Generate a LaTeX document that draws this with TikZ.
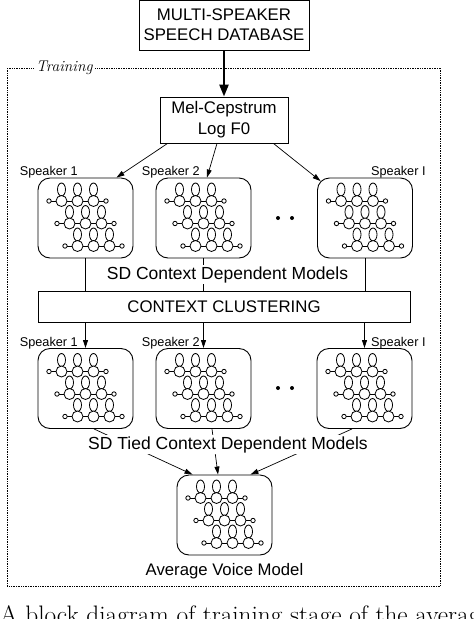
\documentclass[tikz,border=0pt]{standalone}
\usepackage{fontspec}
\newfontfamily\arialfont{Liberation Sans}
\usetikzlibrary{arrows.meta,positioning,calc}
\newcommand{\sz}[2]{\fontsize{#1}{#2}\selectfont}

\begin{document}
\begin{tikzpicture}[x=1pt,y=-1pt,
    box/.style={draw,line width=0.9pt,align=center,inner sep=0pt,font=\arialfont\sz{16.8}{20}},
    hmmbox/.style={draw,line width=0.9pt,rounded corners=12pt,minimum width=95pt,
                   minimum height=80pt,inner sep=0pt},
    spk/.style={font=\arialfont\sz{12.7}{15},inner sep=0pt},
    lbl/.style={font=\arialfont\sz{17.5}{20},inner sep=1pt,fill=white},
    con/.style={line width=0.7pt},
    model/.pic={
      \foreach \r in {0,1,2}{
        \pgfmathsetmacro\rowy{-17+22.5*\r}
        \pgfmathsetmacro\rowx{-24+8*\r}
        \draw[line width=0.8pt] (\rowx-12.5,\rowy) -- (\rowx+44.5,\rowy);
        \foreach \k in {0,1,2}{
          \draw[line width=0.8pt,fill=white] (\rowx+16*\k,\rowy-11.5) ellipse[x radius=4,y radius=6.5];
          \draw[line width=0.8pt,fill=white] (\rowx+16*\k,\rowy) circle[radius=5.5];
        }
        \draw[line width=0.8pt,fill=white] (\rowx-12.5,\rowy) circle[radius=2.2];
        \draw[line width=0.8pt,fill=white] (\rowx+44.5,\rowy) circle[radius=2.2];
      }
    },
    >={Triangle[length=8pt,width=5pt]}]
  \clip (0,0) rectangle (474,619);

  % training frame
  \draw[densely dotted,line width=0.7pt] (7,68) rectangle (440.5,586);
  \node[anchor=base west,fill=white,inner sep=2pt,font=\itshape\sz{15.5}{18}] (trn) at (34,71) {Training};

  \node[box,minimum width=170pt,minimum height=50pt] (db) at (224,25) {MULTI-SPEAKER\\SPEECH DATABASE};
  \node[box,minimum width=128pt,minimum height=46pt,font=\arialfont\sz{16.8}{21}] (mel) at (224,120) {Mel-Cepstrum\\Log F0};
  \draw[-{Triangle[length=12pt,width=9pt]},line width=2.4pt] (db) -- (mel);

  % speaker dependent models
  \node[hmmbox] (m1) at (85.5,218) {};
  \node[hmmbox] (m2) at (203.5,218) {};
  \node[hmmbox] (m3) at (365,218) {};
  \pic at (m1) {model};
  \pic at (m2) {model};
  \pic at (m3) {model};
  \fill (278,218) circle[radius=2] (292,218) circle[radius=2];
  \node[spk,anchor=base east] (s1) at (78,175.5) {Speaker 1};
  \node[spk,anchor=base east] (s2) at (200,175.5) {Speaker 2};
  \node[spk,anchor=base west] (s3) at (371,175.5) {Speaker I};
  \draw[con,->] ($(mel.south west)+(8,0)$) -- ($(m1.north)+(31,0)$);
  \draw[con,->] ($(mel.south)+(-7,0)$) -- ($(m2.north)+(3.5,0)$);
  \draw[con,->] ($(mel.south east)+(-15,0)$) -- ($(m3.north west)+(3.5,3.5)$);

  \node[box,minimum width=372pt,minimum height=31pt] (cc) at (224,306.5) {CONTEXT CLUSTERING};
  \draw[con] (m1.south) -- (m1.south |- cc.north);
  \draw[con] (m2.south) -- (m2.south |- cc.north);
  \draw[con] (m3.south) -- (m3.south |- cc.north);
  \node[lbl,anchor=base] (sdc) at (227.5,279) {SD Context Dependent Models};

  % tied models
  \node[hmmbox] (t1) at (85.5,388.5) {};
  \node[hmmbox] (t2) at (203.5,388.5) {};
  \node[hmmbox] (t3) at (364.5,388.5) {};
  \pic at (t1) {model};
  \pic at (t2) {model};
  \pic at (t3) {model};
  \fill (278,388) circle[radius=2] (292,388) circle[radius=2];
  \draw[con,->] (t1 |- cc.south) -- (t1.north);
  \draw[con,->] (t2 |- cc.south) -- (t2.north);
  \draw[con,->] (t3 |- cc.south) -- (t3.north);
  \node[spk,anchor=base east] (u1) at (78,346) {Speaker 1};
  \node[spk,anchor=base east] (u2) at (200,346) {Speaker 2};
  \node[spk,anchor=base west] (u3) at (371,346) {Speaker I};

  % average voice
  \node[hmmbox] (avg) at (224.5,515) {};
  \pic at (avg) {model};
  \draw[con,->] ($(t1.south)+(8.5,0)$) -- ($(avg.north west)+(16,0)$);
  \draw[con,->] ($(t2.south)+(8.5,0)$) -- ($(avg.north)+(-6.5,0)$);
  \draw[con,->] ($(t3.south)+(-12.5,0)$) -- ($(avg.north)+(26,0)$);
  \node[lbl,anchor=base] (sdt) at (228,449) {SD Tied Context Dependent Models};
  \node[font=\arialfont\sz{16.7}{20},inner sep=0pt,below=8pt of avg] (avl) {Average Voice Model};

  \node[anchor=base west,inner sep=0pt,font=\sz{25.3}{30}] (cap) at (0,623) {A block diagram of training stage of the average voice model};
\end{tikzpicture}
\end{document}
